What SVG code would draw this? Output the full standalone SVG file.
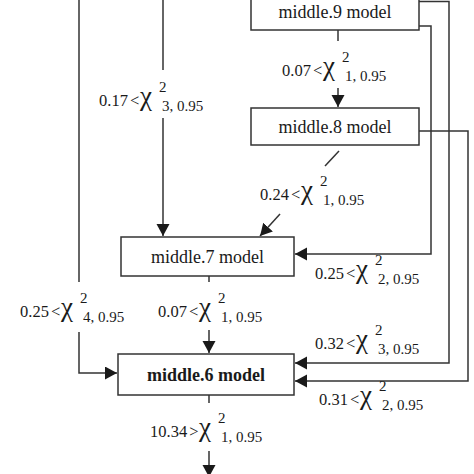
<svg xmlns="http://www.w3.org/2000/svg" width="474" height="474" viewBox="0 0 474 474" font-family="'Liberation Serif', 'DejaVu Serif', serif">
<defs>
<marker id="ah" markerUnits="userSpaceOnUse" markerWidth="14" markerHeight="14" refX="12" refY="6.5" orient="auto">
<path d="M0,0 L12,6.5 L0,13 z" fill="#1a1a1a"/>
</marker>
<style>
text{font-family:'Liberation Serif','DejaVu Serif',serif;fill:#1a1a1a}
.box{fill:#fff;stroke:#333;stroke-width:1.5}
.name{font-size:18px;text-anchor:middle}
.bold{font-weight:bold}
.lbl{font-size:16.5px;word-spacing:-2px}
.chi{font-size:27px}
.sm{font-size:15px;word-spacing:0}
.c line,.c polyline{stroke:#333;stroke-width:1.5;fill:none}
</style>
</defs>
<rect width="474" height="474" fill="#fff"/>
<g id="connectors" class="c">
<line x1="79" y1="0" x2="79" y2="282"/>
<polyline points="79,332 79,373 117,373" marker-end="url(#ah)"/>
<line x1="163" y1="0" x2="163" y2="70"/>
<line x1="163" y1="118" x2="163" y2="236" marker-end="url(#ah)"/>
<polyline points="419,1.5 449,1.5 449,363 295,363" marker-end="url(#ah)"/>
<polyline points="419,26 431,26 431,254 295,254" marker-end="url(#ah)"/>
<polyline points="419,131 468,131 468,381 295,381" marker-end="url(#ah)"/>
<line x1="338" y1="30" x2="338" y2="41"/>
<line x1="338" y1="88" x2="338" y2="107" marker-end="url(#ah)"/>
<line x1="339" y1="151" x2="325" y2="166"/>
<line x1="280" y1="214" x2="260" y2="236" marker-end="url(#ah)"/>
<line x1="209" y1="276" x2="209" y2="282"/>
<line x1="209" y1="330" x2="209" y2="353" marker-end="url(#ah)"/>
<line x1="209" y1="395" x2="209" y2="403"/>
<line x1="209" y1="451" x2="209" y2="477" marker-end="url(#ah)"/>
</g>
<g id="middle9">
<rect class="box" x="251" y="-8" width="168" height="38"/>
<text class="name" x="335" y="18">middle.9 model</text>
</g>
<g id="middle8">
<rect class="box" x="251" y="108" width="168" height="37"/>
<text class="name" x="335" y="133">middle.8 model</text>
</g>
<g id="middle7">
<rect class="box" x="121" y="237" width="173" height="39"/>
<text class="name" x="207.5" y="263">middle.7 model</text>
</g>
<g id="middle6">
<rect class="box" x="118" y="354" width="176" height="41"/>
<text class="name bold" x="206" y="381">middle.6 model</text>
</g>
<g id="labels">
<text class="lbl"><tspan x="99" y="106">0.17 &lt;</tspan><tspan class="chi" x="140" y="105">χ</tspan><tspan class="sm" x="159" y="92">2</tspan><tspan class="sm" x="162" y="111">3, 0.95</tspan></text>
<text class="lbl"><tspan x="282" y="76">0.07 &lt;</tspan><tspan class="chi" x="323" y="75">χ</tspan><tspan class="sm" x="342" y="62">2</tspan><tspan class="sm" x="345" y="81">1, 0.95</tspan></text>
<text class="lbl"><tspan x="260" y="200">0.24 &lt;</tspan><tspan class="chi" x="301" y="199">χ</tspan><tspan class="sm" x="320" y="186">2</tspan><tspan class="sm" x="323" y="205">1, 0.95</tspan></text>
<text class="lbl"><tspan x="20" y="317">0.25 &lt;</tspan><tspan class="chi" x="61" y="316">χ</tspan><tspan class="sm" x="80" y="303">2</tspan><tspan class="sm" x="83" y="322">4, 0.95</tspan></text>
<text class="lbl"><tspan x="158" y="317">0.07 &lt;</tspan><tspan class="chi" x="199" y="316">χ</tspan><tspan class="sm" x="218" y="303">2</tspan><tspan class="sm" x="221" y="322">1, 0.95</tspan></text>
<text class="lbl"><tspan x="150" y="437">10.34 &gt;</tspan><tspan class="chi" x="199" y="436">χ</tspan><tspan class="sm" x="218" y="423">2</tspan><tspan class="sm" x="221" y="442">1, 0.95</tspan></text>
<text class="lbl"><tspan x="315" y="279">0.25 &lt;</tspan><tspan class="chi" x="356" y="278">χ</tspan><tspan class="sm" x="375" y="265">2</tspan><tspan class="sm" x="378" y="284">2, 0.95</tspan></text>
<text class="lbl"><tspan x="315" y="349">0.32 &lt;</tspan><tspan class="chi" x="356" y="348">χ</tspan><tspan class="sm" x="375" y="335">2</tspan><tspan class="sm" x="378" y="354">3, 0.95</tspan></text>
<text class="lbl"><tspan x="319" y="405">0.31 &lt;</tspan><tspan class="chi" x="360" y="404">χ</tspan><tspan class="sm" x="379" y="391">2</tspan><tspan class="sm" x="382" y="410">2, 0.95</tspan></text>
</g>
</svg>
